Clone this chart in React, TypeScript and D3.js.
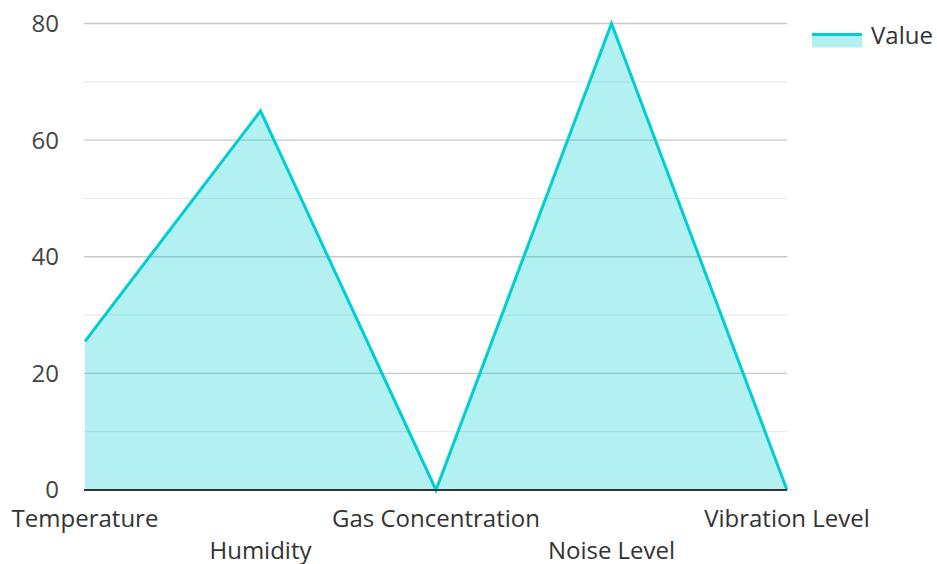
import React from "react";
import * as d3 from "d3";

const categories = ["Temperature", "Humidity", "Gas Concentration", "Noise Level", "Vibration Level"];
const values = [25.5, 65, 0, 80, 0];
const majorTicks = [0, 20, 40, 60, 80];
const minorTicks = [10, 30, 50, 70];
const seriesName = "Value";

const W = 937, H = 564;
const left = 85, right = 787, top = 23.5, bottom = 490;
const color = "#00CED1";
const font = "'Open Sans', sans-serif";

export default function App() {
  const x = d3.scalePoint<string>().domain(categories).range([left, right]);
  const y = d3.scaleLinear().domain([0, 80]).range([bottom, top]);
  const data = categories.map((c, i) => ({ c, v: values[i] }));
  const area = d3.area<{ c: string; v: number }>().x(d => x(d.c)!).y0(y(0)).y1(d => y(d.v));
  const line = d3.line<{ c: string; v: number }>().x(d => x(d.c)!).y(d => y(d.v));
  return (
    <svg width={W} height={H} style={{ position: "absolute", left: 0, top: 0, fontFamily: font }}>
      <rect width={W} height={H} fill="#fff" />
      {minorTicks.map(t => (
        <line key={"m" + t} x1={left - 1} x2={right} y1={y(t)} y2={y(t)} stroke="#e6e6e6" strokeWidth={1} />
      ))}
      {majorTicks.filter(t => t !== 0).map(t => (
        <line key={"g" + t} x1={left - 1} x2={right} y1={y(t)} y2={y(t)} stroke="#c8c8c8" strokeWidth={1.3} />
      ))}
      <path d={area(data)!} fill={color} fillOpacity={0.3} />
      <path d={line(data)!} fill="none" stroke={color} strokeWidth={3} strokeLinejoin="miter" />
      <line x1={left - 1} x2={right} y1={y(0)} y2={y(0)} stroke="#333" strokeWidth={2} />
      {majorTicks.map(t => (
        <text key={"t" + t} x={59} y={y(t)} dy="0.35em" textAnchor="end" fontSize={24} fill="#444">{t}</text>
      ))}
      {categories.map((c, i) => (
        <text key={c} x={x(c)!} y={i % 2 === 0 ? 527 : 559} textAnchor="middle" fontSize={24} fill="#333">{c}</text>
      ))}
      <rect x={812} y={34.5} width={50} height={13} fill={color} fillOpacity={0.3} />
      <line x1={812} x2={862} y1={34.5} y2={34.5} stroke={color} strokeWidth={3} />
      <text x={871} y={44} fontSize={24} fill="#333">{seriesName}</text>
    </svg>
  );
}
